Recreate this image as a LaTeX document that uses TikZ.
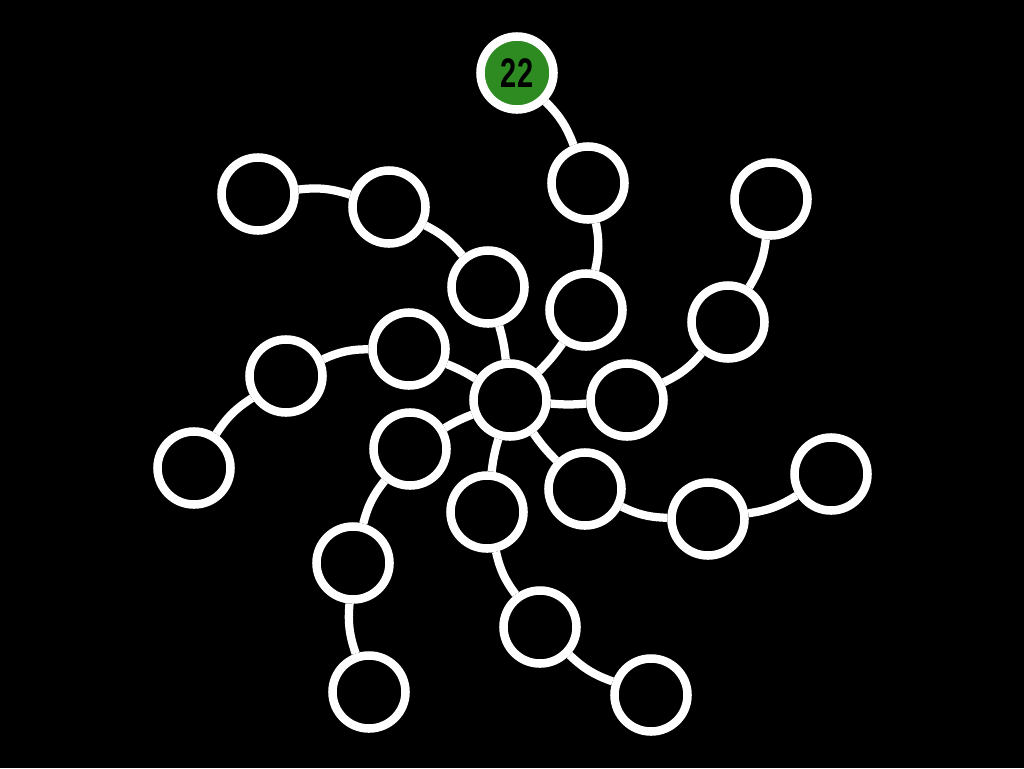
\documentclass[tikz,border=0pt]{standalone}
\usepackage{fontspec}
\setmainfont{Liberation Sans}
\definecolor{nodegreen}{RGB}{46,139,34}
\begin{document}
\begin{tikzpicture}[x=0.75pt,y=-0.75pt,
  nd/.style={circle,draw=white,fill=black,line width=6.4pt,minimum size=54.75pt,inner sep=0pt},
  gn/.style={nd,fill=nodegreen},
  ed/.style={draw=white,line width=6.2pt,bend right=12},
  edc/.style={draw=white,line width=6.2pt,bend right=5}]
\fill[black] (0,0) rectangle (1024,768);
\useasboundingbox (0,0) rectangle (1024,768);
% nodes
\node[nd] (c) at (510,400) {};
\node[nd] (a1) at (586,310) {};
\node[nd] (a2) at (588,183) {};
\node[gn] (a3) at (517,73) {\fontsize{31}{31}\selectfont\bfseries\scalebox{0.7}[1]{22}};
\node[nd] (b1) at (488,287) {};
\node[nd] (b2) at (389,207) {};
\node[nd] (b3) at (258,194) {};
\node[nd] (d1) at (409,349) {};
\node[nd] (d2) at (286,376) {};
\node[nd] (d3) at (194,468) {};
\node[nd] (e1) at (410,449) {};
\node[nd] (e2) at (353,563) {};
\node[nd] (e3) at (369,692) {};
\node[nd] (f1) at (487,512) {};
\node[nd] (f2) at (540,627) {};
\node[nd] (f3) at (651,695) {};
\node[nd] (g1) at (585,489) {};
\node[nd] (g2) at (708,519) {};
\node[nd] (g3) at (831,474) {};
\node[nd] (h1) at (627,400) {};
\node[nd] (h2) at (728,322) {};
\node[nd] (h3) at (771,199) {};
% edges
\path[edc] (c) edge (a1) (c) edge (b1) (c) edge (d1) (c) edge (e1)
           (c) edge (f1) (c) edge (g1) (c) edge (h1);
\path[ed] (a1) edge (a2) (a2) edge (a3)
          (b1) edge (b2) (b2) edge (b3)
          (d1) edge (d2) (d2) edge (d3)
          (e1) edge (e2) (e2) edge (e3)
          (f1) edge (f2) (f2) edge (f3)
          (g1) edge (g2) (g2) edge (g3)
          (h1) edge (h2) (h2) edge (h3);
\end{tikzpicture}
\end{document}
